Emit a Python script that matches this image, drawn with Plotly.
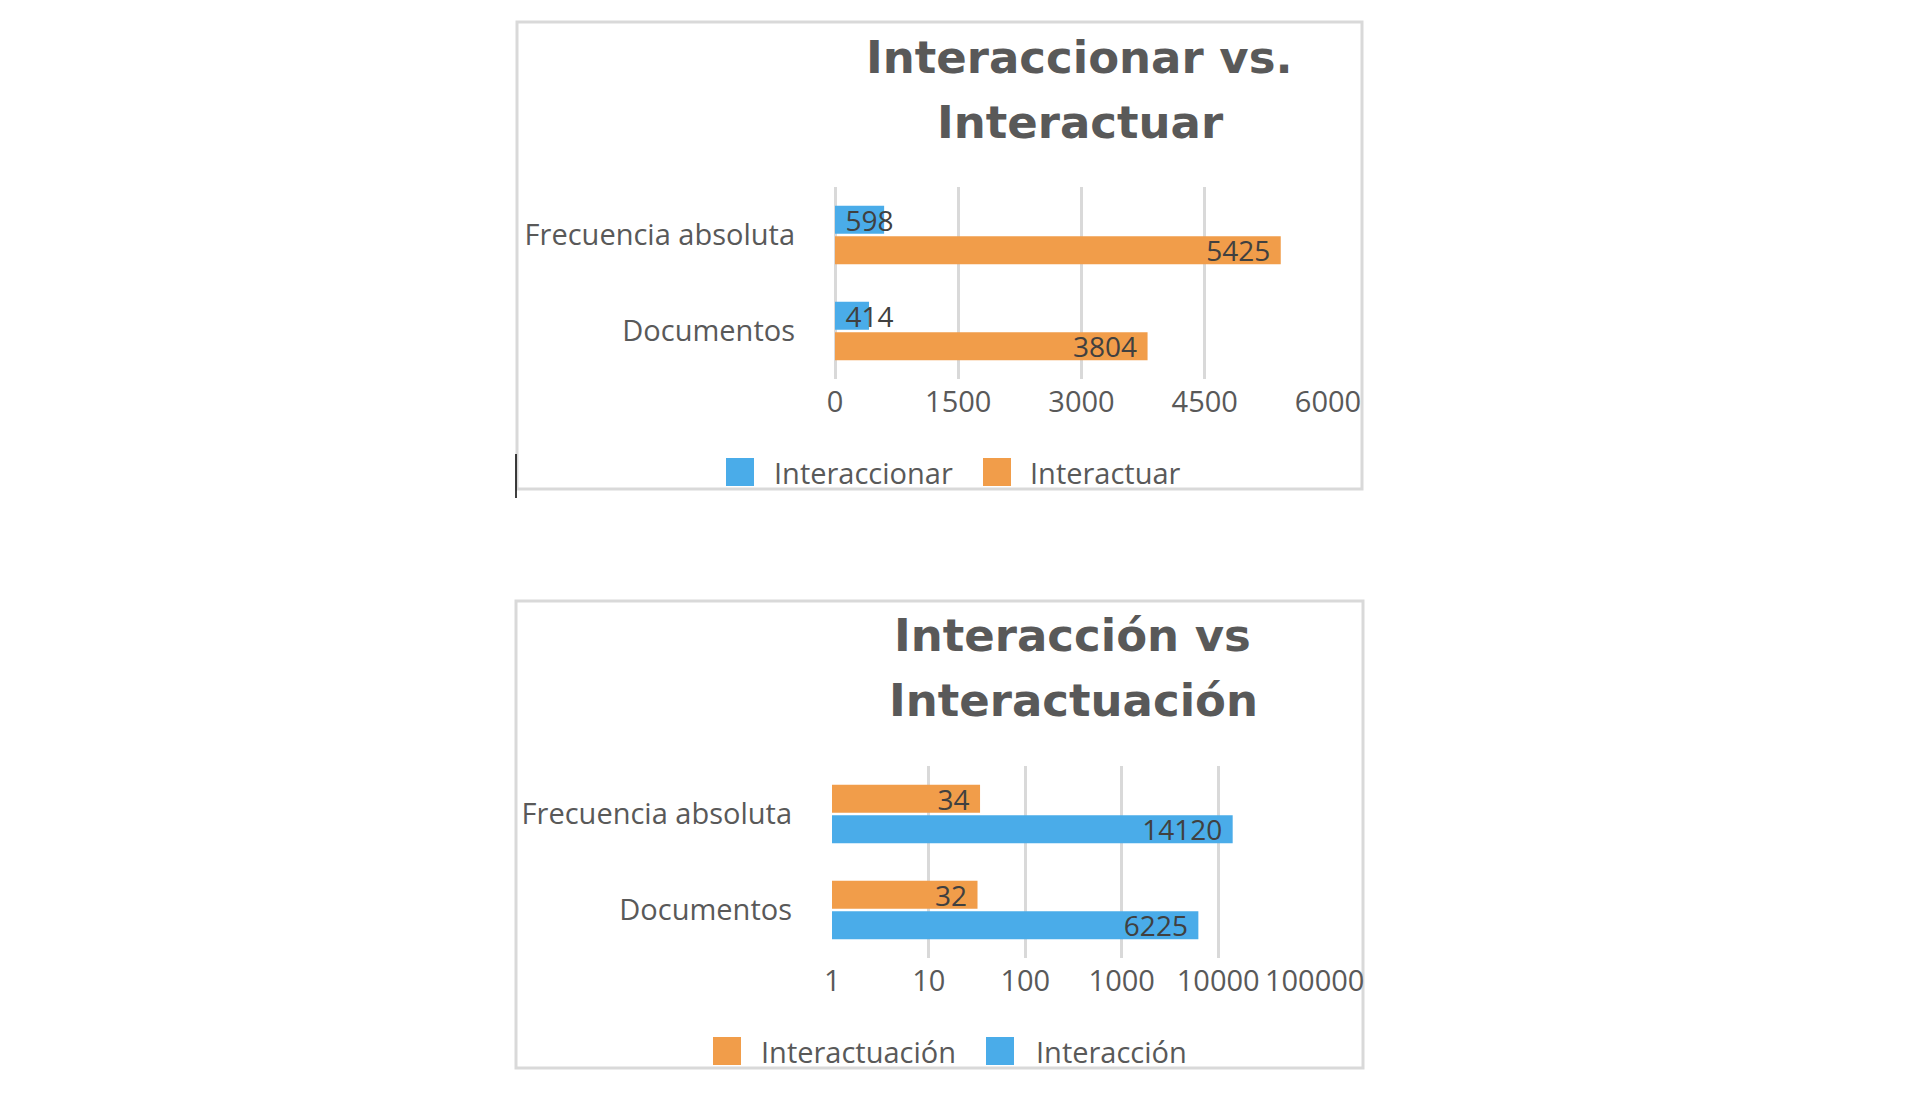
import plotly.graph_objects as go

W, H = 1920, 1109

# ---------------- data ----------------
categories = ["Frecuencia absoluta", "Documentos"]

top_title = ["Interaccionar vs.", "Interactuar"]
top_series_names = ["Interaccionar", "Interactuar"]
top_interaccionar = [598, 414]
top_interactuar = [5425, 3804]
top_tickvals = [0, 1500, 3000, 4500, 6000]
top_ticktext = ["0", "1500", "3000", "4500", "6000"]

bot_title = ["Interacción vs", "Interactuación"]
bot_series_names = ["Interactuación", "Interacción"]
bot_interactuacion = [34, 32]
bot_interaccion = [14120, 6225]
bot_tickvals = [1, 10, 100, 1000, 10000, 100000]
bot_ticktext = ["1", "10", "100", "1000", "10000", "100000"]

# ---------------- style ----------------
BLUE = "#4AACE9"
ORANGE = "#F19D4A"
GRID = "#D9D9D9"
TXT = "#595959"
LBL = "#404040"
FONT = "Open Sans"
TFONT = "DejaVu Sans"
PAD_END = "\u2009\u200a"
PAD_START = "\u2009\u200a"


def px_x(p):
    return p / W


def px_y(p):
    return 1 - p / H


lbl_font = dict(family=FONT, size=28, color=LBL)

fig = go.Figure()

fig.add_trace(go.Bar(
    y=categories, x=top_interaccionar, orientation="h", name=top_series_names[0],
    marker=dict(color=BLUE, line=dict(width=0)),
    text=[PAD_START + str(v) for v in top_interaccionar], textposition="inside",
    insidetextanchor="start", constraintext="none", textfont=lbl_font,
    xaxis="x", yaxis="y", showlegend=False,
))
fig.add_trace(go.Bar(
    y=categories, x=top_interactuar, orientation="h", name=top_series_names[1],
    marker=dict(color=ORANGE, line=dict(width=0)),
    text=[str(v) + PAD_END for v in top_interactuar], textposition="inside",
    insidetextanchor="end", constraintext="none", textfont=lbl_font,
    xaxis="x", yaxis="y", showlegend=False,
))
fig.add_trace(go.Bar(
    y=categories, x=bot_interactuacion, orientation="h", name=bot_series_names[0],
    marker=dict(color=ORANGE, line=dict(width=0)),
    text=[str(v) + PAD_END for v in bot_interactuacion], textposition="inside",
    insidetextanchor="end", constraintext="none", textfont=lbl_font,
    xaxis="x2", yaxis="y2", showlegend=False,
))
fig.add_trace(go.Bar(
    y=categories, x=bot_interaccion, orientation="h", name=bot_series_names[1],
    marker=dict(color=BLUE, line=dict(width=0)),
    text=[str(v) + PAD_END for v in bot_interaccion], textposition="inside",
    insidetextanchor="end", constraintext="none", textfont=lbl_font,
    xaxis="x2", yaxis="y2", showlegend=False,
))

axis_font = dict(family=FONT, size=29, color=TXT)

fig.update_layout(
    width=W, height=H, autosize=False,
    margin=dict(l=0, r=0, t=0, b=0, pad=0, autoexpand=False),
    paper_bgcolor="white", plot_bgcolor="white",
    barmode="group", bargap=0.365, bargroupgap=0.08,
    showlegend=False,
    font=dict(family=FONT, color=TXT),
    xaxis=dict(
        domain=[px_x(835), px_x(1328)], range=[0, 6000],
        tickvals=top_tickvals, ticktext=top_ticktext, tickangle=0,
        showgrid=True, gridcolor=GRID, gridwidth=2.5,
        zeroline=True, zerolinecolor=GRID, zerolinewidth=2.5,
        showline=False, ticks="", tickfont=axis_font, anchor="y",
        ticklabelstandoff=3,
    ),
    yaxis=dict(
        domain=[px_y(379), px_y(187)], autorange="reversed",
        type="category", showgrid=False, zeroline=False, showline=False,
        ticks="", tickfont=axis_font, anchor="x", ticklabelstandoff=39,
    ),
    xaxis2=dict(
        domain=[px_x(832), px_x(1315)], type="log", range=[-0.003, 5.003],
        tickvals=bot_tickvals, ticktext=bot_ticktext, tickangle=0,
        showgrid=True, gridcolor=GRID, gridwidth=2.5,
        zeroline=False, showline=False, ticks="", tickfont=axis_font,
        anchor="y2", ticklabelstandoff=3,
    ),
    yaxis2=dict(
        domain=[px_y(958), px_y(766)], autorange="reversed",
        type="category", showgrid=False, zeroline=False, showline=False,
        ticks="", tickfont=axis_font, anchor="x2", ticklabelstandoff=39,
    ),
)

shapes = []
annotations = []

# chart frames
for (x0, y0, x1, y1) in [(517, 22, 1362, 489), (516, 601, 1363, 1068)]:
    shapes.append(dict(type="rect", xref="paper", yref="paper",
                       x0=px_x(x0), x1=px_x(x1), y0=px_y(y1), y1=px_y(y0),
                       line=dict(color=GRID, width=3), fillcolor="rgba(0,0,0,0)",
                       layer="below"))
# text cursor artifact
shapes.append(dict(type="line", xref="paper", yref="paper",
                   x0=px_x(516), x1=px_x(516), y0=px_y(498), y1=px_y(454),
                   line=dict(color="black", width=1.5)))

# titles
for txt, cx, cy in [(top_title[0], 1079, 57), (top_title[1], 1080, 122),
                    (bot_title[0], 1072, 635), (bot_title[1], 1073, 700)]:
    annotations.append(dict(text="<b>%s</b>" % txt, x=px_x(cx), y=px_y(cy),
                            xref="paper", yref="paper", xanchor="center",
                            yanchor="middle", showarrow=False,
                            font=dict(family=TFONT, size=45, color=TXT)))

# legends
leg_font = dict(family=FONT, size=29, color=TXT)
legend_items = [
    (top_series_names[0], BLUE, 726, 772, 472),
    (top_series_names[1], ORANGE, 983, 1028, 472),
    (bot_series_names[0], ORANGE, 713, 759, 1051),
    (bot_series_names[1], BLUE, 986, 1034, 1051),
]
for name, col, sx, tx, cy in legend_items:
    shapes.append(dict(type="rect", xref="paper", yref="paper",
                       x0=px_x(sx), x1=px_x(sx + 28), y0=px_y(cy + 14), y1=px_y(cy - 14),
                       line=dict(width=0), fillcolor=col))
    annotations.append(dict(text=name, x=px_x(tx), y=px_y(cy), xref="paper", yref="paper",
                            xanchor="left", yanchor="middle", showarrow=False,
                            font=leg_font))

fig.update_layout(shapes=shapes, annotations=annotations)

fig.write_html("out.html", config={"responsive": False})
